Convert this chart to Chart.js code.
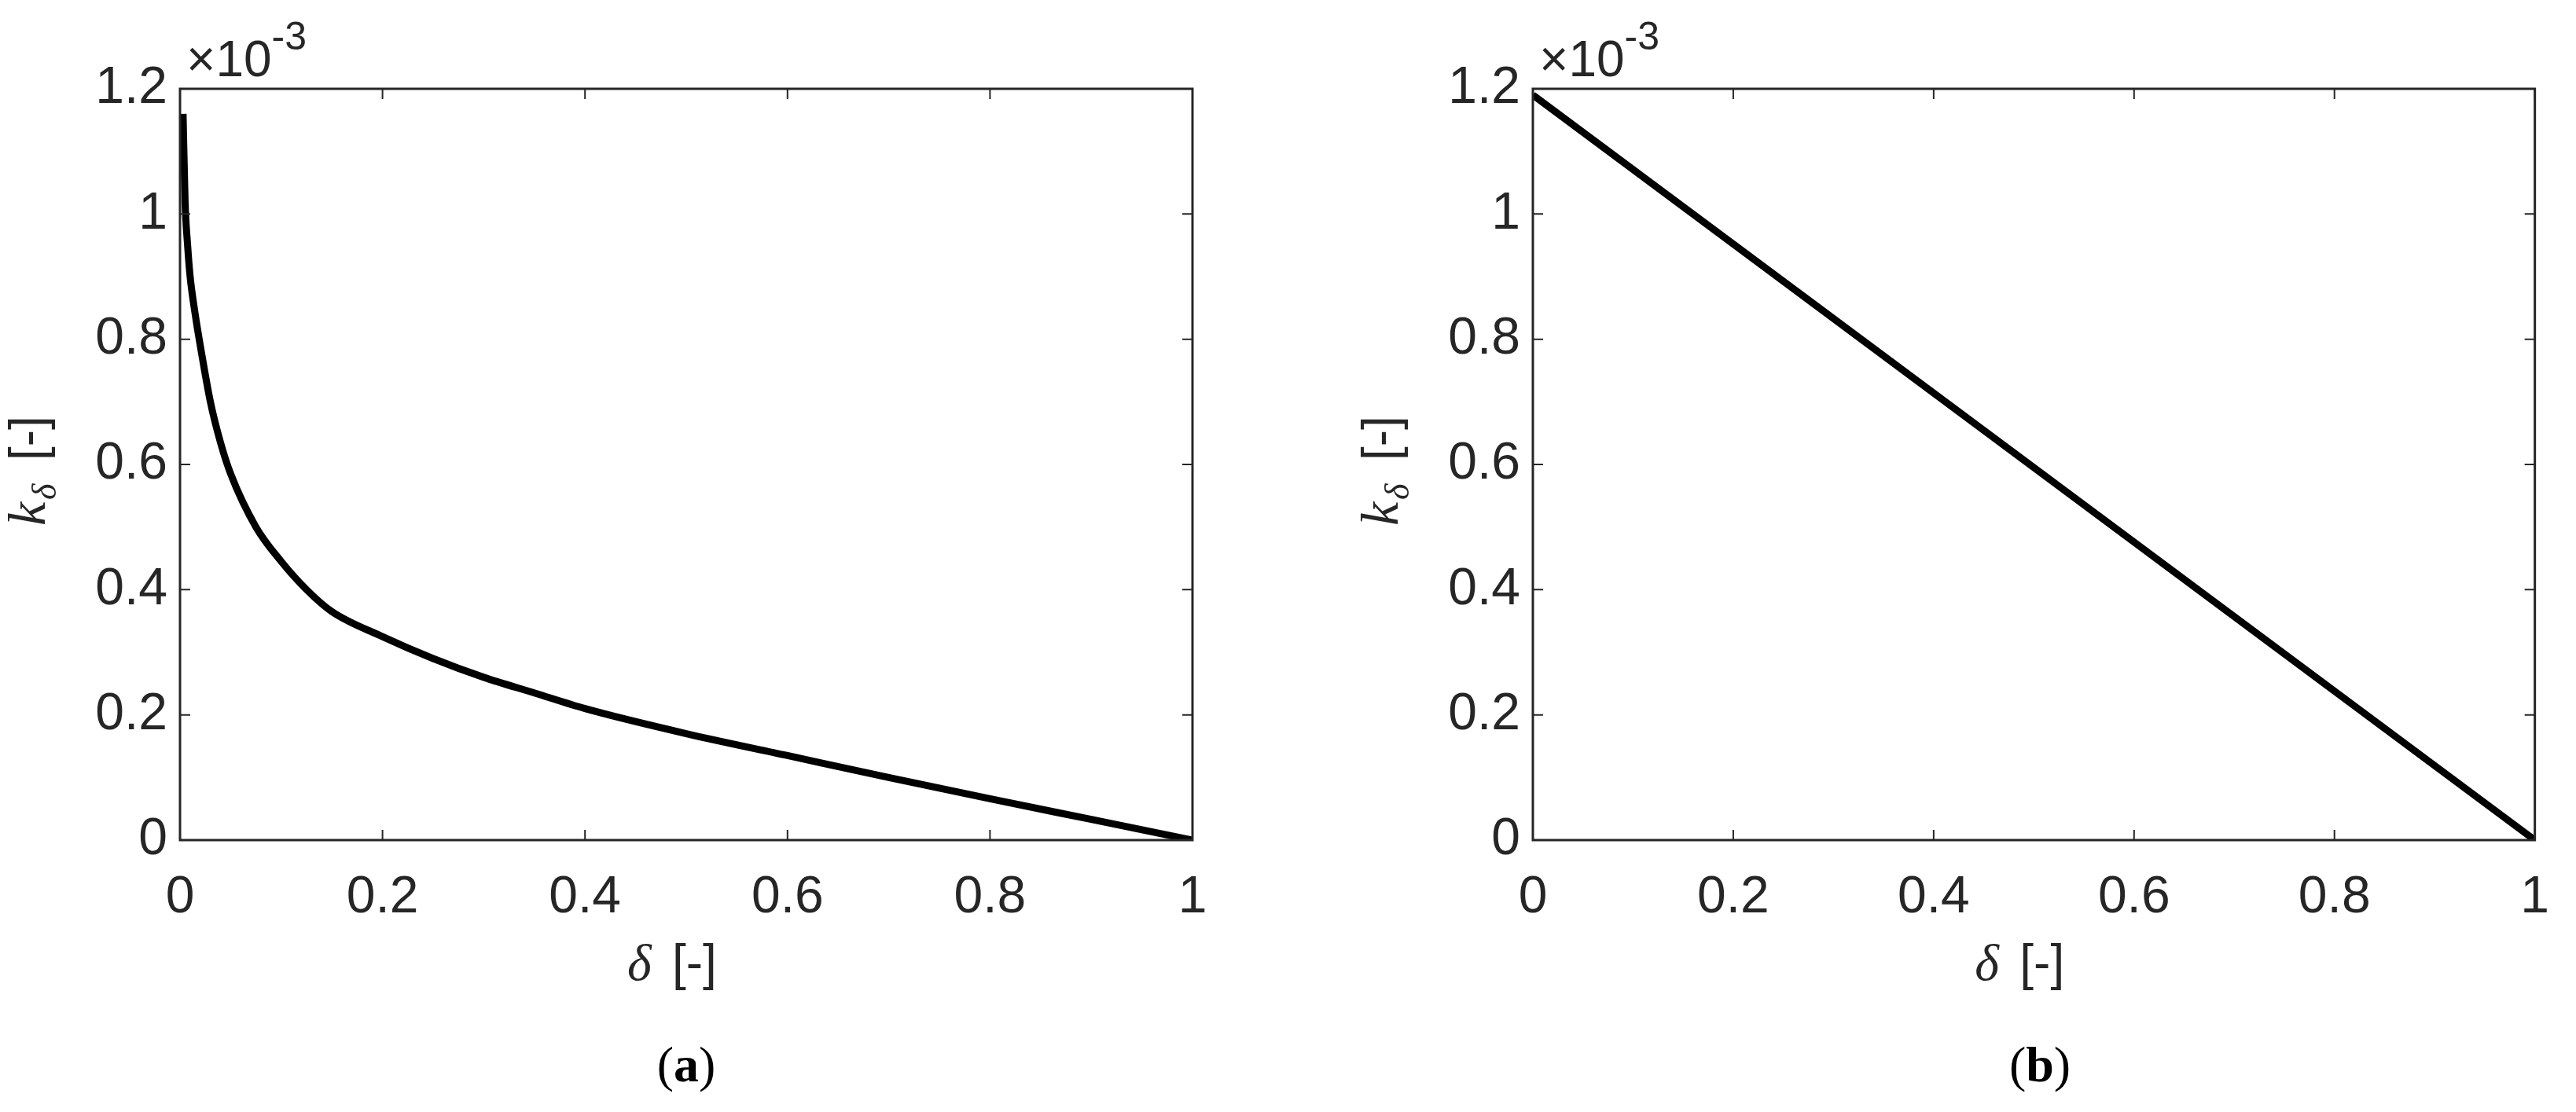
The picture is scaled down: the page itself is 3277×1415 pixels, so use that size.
<!DOCTYPE html>
<html><head><meta charset="utf-8">
<script src="https://cdn.jsdelivr.net/npm/chart.js@4"></script>
<style>
body{margin:0;background:#fff;width:3277px;height:1415px;position:relative;overflow:hidden}
.c{position:absolute;top:0;height:1415px}
.cap{position:absolute;top:1318px;font:64px "Liberation Serif",serif;color:#000;transform:translateX(-50%)}
</style></head><body>
<div class="c" style="left:0;width:1640px"><canvas id="a"></canvas></div>
<div class="c" style="left:1640px;width:1637px"><canvas id="b"></canvas></div>
<div class="cap" style="left:873px">(<b>a</b>)</div>
<div class="cap" style="left:2595px">(<b>b</b>)</div>
<script>
const deltaA=[0.003,0.005,0.0075,0.01,0.015,0.02,0.03,0.04,0.05,0.075,0.1,0.125,0.15,0.2,0.25,0.3,0.35,0.4,0.5,0.6,0.7,0.8,0.9,1.0];
const kA=[1.16,1.02,0.95,0.9,0.84,0.79,0.70,0.635,0.585,0.50,0.445,0.40,0.365,0.325,0.29,0.26,0.235,0.21,0.17,0.135,0.10,0.066,0.033,0.0];
const deltaB=[0,1];
const kB=[1.19,0];
const xTicks=[0,0.2,0.4,0.6,0.8,1];
const yTicks=[0,0.2,0.4,0.6,0.8,1,1.2];
const ink='#262626';
const deco={id:'deco',afterDraw(ch){
  const c=ch.ctx,a=ch.chartArea,xs=ch.scales.x,ys=ch.scales.y;
  c.save();c.strokeStyle=ink;c.lineWidth=3;
  c.strokeRect(a.left,a.top,a.right-a.left,a.bottom-a.top);
  c.lineWidth=2;c.beginPath();
  xTicks.forEach(v=>{const p=xs.getPixelForValue(v);c.moveTo(p,a.bottom);c.lineTo(p,a.bottom-13);c.moveTo(p,a.top);c.lineTo(p,a.top+13);});
  yTicks.forEach(v=>{const p=ys.getPixelForValue(v);c.moveTo(a.left,p);c.lineTo(a.left+13,p);c.moveTo(a.right,p);c.lineTo(a.right-13,p);});
  c.stroke();
  c.fillStyle=ink;c.textBaseline='alphabetic';
  c.font='64px Arial, "Liberation Sans"';c.fillText('\u00d710',a.left+8,a.top-16);
  const w=c.measureText('\u00d710').width;c.font='50px Arial, "Liberation Sans"';c.fillText('-3',a.left+8+w,a.top-50);
  const cx=(a.left+a.right)/2;c.font='italic 66px "Liberation Serif", serif';
  c.fillText('\u03b4',cx-75,a.bottom+178);
  c.font='64px "Liberation Sans", Arial';c.fillText('[-]',cx-18,a.bottom+178);
  c.translate(a.left-172,(a.top+a.bottom)/2);c.rotate(-Math.PI/2);
  c.font='italic 68px "Liberation Serif", serif';c.fillText('k',-78,0);
  c.font='italic 44px "Liberation Serif", serif';c.fillText('\u03b4',-45,14);
  c.font='64px "Liberation Sans", Arial';c.fillText('[-]',5,0);
  c.restore();
}};
function make(id,xs,ys,yw,pr){
  new Chart(document.getElementById(id),{type:'line',
    data:{datasets:[{data:xs.map((x,i)=>({x,y:ys[i]})),borderColor:'#000',borderWidth:9,pointRadius:0,cubicInterpolationMode:'monotone'}]},
    options:{responsive:true,maintainAspectRatio:false,animation:false,
      layout:{padding:{top:113,right:pr,bottom:146,left:0}},
      plugins:{legend:{display:false},tooltip:{enabled:false}},
      scales:{
        x:{type:'linear',min:0,max:1,afterBuildTicks:s=>{s.ticks=xTicks.map(v=>({value:v}));},
           afterFit:s=>{s.height=200;},
           grid:{display:false,drawTicks:false},border:{display:false},
           ticks:{padding:34,color:ink,font:{size:66,family:'Arial, "Liberation Sans"'},callback:v=>String(v)}},
        y:{min:0,max:1.2,afterBuildTicks:s=>{s.ticks=yTicks.map(v=>({value:v}));},
           afterFit:s=>{s.width=yw;},
           grid:{display:false,drawTicks:false},border:{display:false},
           ticks:{padding:16,color:ink,font:{size:66,family:'Arial, "Liberation Sans"'},callback:v=>String(Math.round(v*10)/10)}}
      }},plugins:[deco]});
}
make('a',deltaA,kA,229,123);
make('b',deltaB,kB,310,37);
</script></body></html>
